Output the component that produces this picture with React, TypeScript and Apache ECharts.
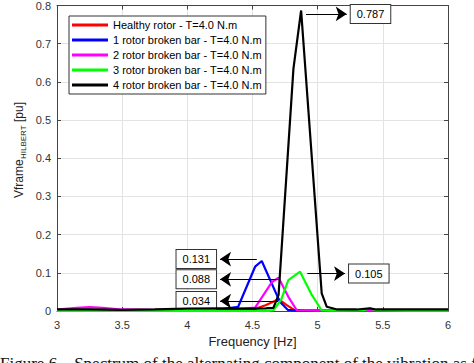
import React, { useEffect, useRef } from "react";
import * as echarts from "echarts";

const seriesNames = [
  "Healthy rotor - T=4.0 N.m",
  "1 rotor broken bar - T=4.0 N.m",
  "2 rotor broken bar - T=4.0 N.m",
  "3 rotor broken bar - T=4.0 N.m",
  "4 rotor broken bar - T=4.0 N.m",
];
const seriesColors = ["#ff0000", "#0000ff", "#ff00ff", "#00ff00", "#000000"];

const freqHealthy = [3.0, 3.5, 4.0, 4.3, 4.5, 4.6, 4.7, 4.76, 4.82, 4.9, 5.2, 5.6, 6.0];
const valHealthy = [0.002, 0.002, 0.002, 0.002, 0.003, 0.015, 0.031, 0.016, 0.003, 0.001, 0.001, 0.001, 0.001];

const freqBar1 = [3.0, 3.5, 4.0, 4.2, 4.39, 4.52, 4.571, 4.71, 4.77, 4.85, 5.2, 5.6, 6.0];
const valBar1 = [0.002, 0.002, 0.002, 0.002, 0.011, 0.116, 0.131, 0.024, 0.003, 0.001, 0.001, 0.001, 0.001];

const freqBar2 = [3.0, 3.15, 3.25, 3.35, 3.5, 3.75, 4.0, 4.3, 4.52, 4.65, 4.7, 4.775, 4.84, 5.0, 5.5, 6.0];
const valBar2 = [0.004, 0.008, 0.01, 0.008, 0.004, 0.003, 0.003, 0.002, 0.009, 0.076, 0.087, 0.037, 0.002, 0.001, 0.001, 0.001];

const freqBar3 = [3.0, 3.5, 4.0, 4.4, 4.62, 4.66, 4.72, 4.775, 4.865, 4.955, 5.03, 5.1, 5.35, 5.4, 5.45, 5.7, 6.0];
const valBar3 = [0.0, 0.0, 0.0, 0.0, 0.0, 0.002, 0.03, 0.081, 0.103, 0.042, 0.002, 0.001, 0.002, 0.007, 0.002, 0.001, 0.001];

const freqBar4 = [3.0, 3.25, 3.5, 3.75, 4.0, 4.25, 4.5, 4.6, 4.66, 4.7, 4.814, 4.873, 5.031, 5.07, 5.15, 5.3, 5.4, 5.45, 5.6, 5.8, 6.0];
const valBar4 = [0.004, 0.004, 0.003, 0.004, 0.006, 0.007, 0.006, 0.007, 0.008, 0.042, 0.634, 0.787, 0.046, 0.011, 0.004, 0.004, 0.007, 0.004, 0.004, 0.004, 0.004];

const seriesFreqs = [freqHealthy, freqBar1, freqBar2, freqBar3, freqBar4];
const seriesVals = [valHealthy, valBar1, valBar2, valBar3, valBar4];

const xTicks = { min: 3, max: 6, interval: 0.5 };
const yTicks = { min: 0, max: 0.8, interval: 0.1 };

// annotations: text, arrow tail [x,y], arrow head [x,y] in data units
const annoTexts = ["0.787", "0.131", "0.088", "0.034", "0.105"];
const annoTail = [[4.911, 0.778], [4.533, 0.136], [4.696, 0.083], [4.696, 0.026], [4.921, 0.098]];
const annoHead = [[5.223, 0.778], [4.251, 0.136], [4.251, 0.083], [4.251, 0.026], [5.21, 0.098]];

const FONT = "Liberation Sans, Arial, sans-serif";

export default function App() {
  const ref = useRef<HTMLDivElement>(null);
  useEffect(() => {
    if (!ref.current) return;
    const chart = echarts.init(ref.current, undefined, { renderer: "svg" });
    const series: any[] = seriesNames.map((name, i) => ({
      name,
      type: "line",
      data: seriesFreqs[i].map((f, j) => [f, seriesVals[i][j]]),
      showSymbol: false,
      symbol: "none",
      lineStyle: { width: 2.2, color: seriesColors[i] },
      itemStyle: { color: seriesColors[i] },
      z: 2 + i,
    }));
    series[4].markLine = {
      silent: true,
      symbol: ["none", "arrow"],
      symbolSize: 11,
      lineStyle: { color: "#000", width: 1, type: "solid" },
      data: annoTexts.map((t, i) => [
        {
          coord: annoTail[i],
          label: {
            show: true,
            position: "end",
            formatter: t,
            color: "#000",
            fontSize: 11,
            fontFamily: FONT,
            backgroundColor: "#fff",
            borderColor: "#333",
            borderWidth: 1,
            padding: [4, 6, 3, 6],
            distance: 4,
          },
        },
        { coord: annoHead[i] },
      ]),
    };

    const axisLineStyle = { color: "#444", width: 1 };
    chart.setOption({
      animation: false,
      backgroundColor: "#fff",
      grid: { left: 57, right: 26, top: 5, bottom: 52, show: false },
      legend: {
        data: seriesNames,
        orient: "vertical",
        left: 69,
        top: 16,
        icon: "rect",
        itemWidth: 36,
        itemHeight: 3,
        itemGap: 2,
        padding: [2.5, 4, 2.5, 3],
        borderColor: "#333",
        borderWidth: 1,
        backgroundColor: "#fff",
        textStyle: { fontSize: 11, fontFamily: FONT, color: "#000", lineHeight: 13 },
      },
      xAxis: [
        {
          type: "value",
          ...xTicks,
          name: "Frequency [Hz]",
          nameLocation: "middle",
          nameGap: 24,
          nameTextStyle: { fontSize: 13, fontFamily: FONT, color: "#222" },
          axisLine: { show: true, onZero: false, lineStyle: axisLineStyle },
          axisTick: { show: true, inside: true, length: 4, lineStyle: axisLineStyle },
          axisLabel: { fontSize: 11, fontFamily: FONT, color: "#333", margin: 8, formatter: (v: number) => String(Math.round(v * 10) / 10) },
          splitLine: { show: true, lineStyle: { color: "#e3e3e3", width: 1 } },
        },
        {
          type: "value",
          position: "top",
          ...xTicks,
          axisLine: { show: true, onZero: false, lineStyle: axisLineStyle },
          axisTick: { show: true, inside: true, length: 4, lineStyle: axisLineStyle },
          axisLabel: { show: false },
          splitLine: { show: false },
        },
      ],
      yAxis: [
        {
          type: "value",
          ...yTicks,
          axisLine: { show: true, onZero: false, lineStyle: axisLineStyle },
          axisTick: { show: true, inside: true, length: 4, lineStyle: axisLineStyle },
          axisLabel: { fontSize: 11, fontFamily: FONT, color: "#333", margin: 6, formatter: (v: number) => String(Math.round(v * 10) / 10) },
          splitLine: { show: true, lineStyle: { color: "#e3e3e3", width: 1 } },
        },
        {
          type: "value",
          position: "right",
          ...yTicks,
          axisLine: { show: true, onZero: false, lineStyle: axisLineStyle },
          axisTick: { show: true, inside: true, length: 4, lineStyle: axisLineStyle },
          axisLabel: { show: false },
          splitLine: { show: false },
        },
      ],
      series,
      graphic: [
        {
          type: "group",
          x: 19,
          y: 198,
          rotation: Math.PI / 2,
          children: [
            { type: "text", x: 0, y: 0, style: { text: "Vframe", fontSize: 12, fontFamily: FONT, fill: "#222", verticalAlign: "middle", align: "left" } },
            { type: "text", x: 39, y: 4, style: { text: "HILBERT", fontSize: 8, fontFamily: FONT, fill: "#222", verticalAlign: "middle", align: "left" } },
            { type: "text", x: 76, y: 0, style: { text: "[pu]", fontSize: 12, fontFamily: FONT, fill: "#222", verticalAlign: "middle", align: "left" } },
          ],
        },
        {
          type: "text",
          left: 0,
          top: 355,
          style: {
            text: "Figure 6.\u2002 Spectrum of the alternating component of the vibration as function of",
            fontSize: 17,
            fontFamily: "Liberation Serif, Times New Roman, serif",
            fill: "#111",
          },
        },
      ],
    });
    return () => chart.dispose();
  }, []);
  return <div ref={ref} style={{ position: "fixed", left: 0, top: 0, width: 474, height: 363 }} />;
}
